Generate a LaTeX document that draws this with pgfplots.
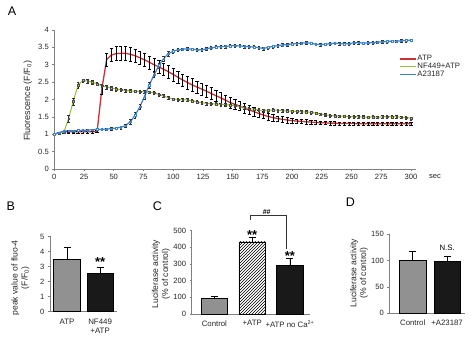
\documentclass[border=0pt]{standalone}
\usepackage{fontspec}
\setmainfont{Liberation Sans}
\usepackage{pgfplots}
\usepackage{pgfplotstable}
\pgfplotsset{compat=1.18}
\usetikzlibrary{patterns}

\definecolor{cred}{RGB}{200,50,55}
\definecolor{cgreen}{RGB}{150,190,60}
\definecolor{cblue}{RGB}{60,130,200}
\definecolor{cgray}{RGB}{145,145,145}
\definecolor{cblack}{RGB}{25,25,25}
\definecolor{axgray}{RGB}{128,128,128}

\pgfplotstableread{
t y e
0 1.00 0.01
4 1.04 0.02
8 1.07 0.03
12 1.07 0.03
16 1.07 0.03
20 1.07 0.03
24 1.07 0.03
28 1.07 0.03
32 1.07 0.03
36 1.08 0.03
40 2.30 0.15
44 3.15 0.18
48 3.28 0.19
52 3.32 0.20
56 3.33 0.20
60 3.33 0.20
64 3.30 0.20
68 3.26 0.19
72 3.20 0.19
76 3.14 0.19
80 3.07 0.19
84 3.00 0.19
88 2.94 0.19
92 2.87 0.18
96 2.80 0.18
100 2.72 0.18
104 2.64 0.18
108 2.56 0.18
112 2.49 0.18
116 2.42 0.18
120 2.36 0.18
124 2.30 0.17
128 2.24 0.17
132 2.17 0.17
136 2.11 0.17
140 2.05 0.17
144 1.98 0.15
148 1.91 0.15
152 1.86 0.15
156 1.81 0.13
160 1.75 0.13
164 1.70 0.13
168 1.65 0.13
172 1.60 0.10
176 1.55 0.10
180 1.51 0.10
184 1.48 0.10
188 1.45 0.08
192 1.43 0.08
196 1.41 0.08
200 1.39 0.08
204 1.38 0.06
208 1.37 0.06
212 1.36 0.06
216 1.35 0.06
220 1.34 0.06
224 1.33 0.05
228 1.33 0.05
232 1.32 0.05
236 1.32 0.05
240 1.31 0.05
244 1.31 0.04
248 1.31 0.04
252 1.31 0.04
256 1.30 0.04
260 1.30 0.04
264 1.30 0.04
268 1.30 0.04
272 1.30 0.04
276 1.30 0.04
280 1.30 0.04
284 1.30 0.04
288 1.30 0.04
292 1.30 0.04
296 1.30 0.04
300 1.30 0.04
}\redtab

\pgfplotstableread{
t y e
0 1.00 0.01
4 1.04 0.02
8 1.06 0.03
12 1.45 0.10
16 1.95 0.10
20 2.42 0.08
24 2.55 0.05
28 2.53 0.05
32 2.50 0.05
36 2.45 0.05
40 2.40 0.05
44 2.36 0.05
48 2.33 0.05
52 2.30 0.05
56 2.28 0.05
60 2.26 0.05
64 2.25 0.04
68 2.24 0.04
72 2.23 0.04
76 2.22 0.04
80 2.21 0.04
84 2.20 0.04
88 2.14 0.04
92 2.10 0.04
96 2.05 0.04
100 2.01 0.04
104 2.00 0.04
108 2.00 0.04
112 1.99 0.04
116 1.96 0.04
120 1.93 0.04
124 1.91 0.04
128 1.89 0.04
132 1.88 0.04
136 1.87 0.04
140 1.86 0.04
144 1.85 0.04
148 1.84 0.04
152 1.82 0.04
156 1.80 0.04
160 1.77 0.04
164 1.74 0.04
168 1.72 0.04
172 1.70 0.04
176 1.69 0.04
180 1.69 0.04
184 1.70 0.04
188 1.69 0.04
192 1.68 0.04
196 1.67 0.04
200 1.66 0.04
204 1.66 0.04
208 1.65 0.04
212 1.64 0.04
216 1.63 0.04
220 1.61 0.04
224 1.58 0.04
228 1.56 0.04
232 1.54 0.04
236 1.53 0.04
240 1.52 0.04
244 1.52 0.04
248 1.51 0.04
252 1.51 0.04
256 1.50 0.04
260 1.50 0.04
264 1.49 0.04
268 1.50 0.04
272 1.49 0.04
276 1.50 0.04
280 1.51 0.04
284 1.50 0.04
288 1.50 0.04
292 1.49 0.04
296 1.48 0.04
300 1.46 0.04
}\greentab

\pgfplotstableread{
t y e
0 1.00 0.01
4 1.05 0.02
8 1.09 0.03
12 1.10 0.03
16 1.10 0.03
20 1.11 0.03
24 1.11 0.03
28 1.12 0.03
32 1.13 0.03
36 1.14 0.03
40 1.14 0.03
44 1.15 0.03
48 1.16 0.03
52 1.18 0.03
56 1.20 0.04
60 1.25 0.05
64 1.36 0.07
68 1.55 0.08
72 1.79 0.08
76 2.10 0.08
80 2.42 0.08
84 2.72 0.08
88 2.98 0.08
92 3.18 0.07
96 3.32 0.06
100 3.39 0.05
104 3.43 0.04
108 3.45 0.04
112 3.46 0.04
116 3.45 0.04
120 3.43 0.04
124 3.43 0.04
128 3.46 0.04
132 3.49 0.04
136 3.51 0.04
140 3.52 0.04
144 3.53 0.04
148 3.54 0.04
152 3.55 0.04
156 3.54 0.04
160 3.53 0.04
164 3.52 0.04
168 3.51 0.04
172 3.49 0.04
176 3.47 0.04
180 3.50 0.04
184 3.53 0.04
188 3.55 0.04
192 3.57 0.04
196 3.58 0.04
200 3.60 0.04
204 3.61 0.04
208 3.62 0.04
212 3.63 0.04
216 3.62 0.04
220 3.59 0.04
224 3.58 0.04
228 3.59 0.04
232 3.61 0.04
236 3.62 0.04
240 3.61 0.04
244 3.60 0.04
248 3.61 0.04
252 3.63 0.04
256 3.64 0.04
260 3.62 0.04
264 3.63 0.04
268 3.64 0.04
272 3.65 0.04
276 3.66 0.04
280 3.67 0.04
284 3.68 0.04
288 3.68 0.04
292 3.69 0.04
296 3.70 0.04
300 3.71 0.04
}\bluetab

\pgfplotsset{
  base/.style={
    scale only axis, clip=false,
    axis x line*=bottom, axis y line*=left,
    axis line style={axgray, line width=0.7pt, -},
    tick style={axgray, line width=0.6pt},
    tick align=outside, major tick length=2pt,
    tick label style={font=\fontsize{7.6}{9}\selectfont, text=black!85},
    label style={font=\fontsize{8.6}{10}\selectfont, text=black!85},
    /pgf/number format/assume math mode=true,
  },
  curveerr/.style={error bars/.cd, y dir=both, y explicit,
    error bar style={black, line width=0.4pt},
    error mark options={black, rotate=90, mark size=1.6pt, line width=0.4pt}},
  curveerrs/.style={error bars/.cd, y dir=both, y explicit,
    error bar style={black!80, line width=0.3pt},
    error mark options={black!80, rotate=90, mark size=1.2pt, line width=0.3pt}},
  barerr/.style={error bars/.cd, y dir=plus, y explicit,
    error bar style={black, line width=0.8pt},
    error mark options={black, rotate=90, mark size=3.5pt, line width=0.8pt}},
  barst/.style={ybar, bar shift=0pt, bar width=26.5pt, draw=black, line width=0.7pt},
}

\begin{document}
\begin{tikzpicture}
\useasboundingbox (0,0) rectangle (474pt,338pt);

% Panel A
\begin{axis}[base, at={(54.3pt,169pt)}, anchor=south west,
  width=361.4pt, height=139pt,
  xmin=0, xmax=304, ymin=0, ymax=4,
  xtick={0,25,...,300}, ytick={0,0.5,...,4},
  ylabel={Fluorescence (F/F\textsubscript{0})},
  ylabel style={font=\fontsize{9}{10}\selectfont, at={(axis description cs:-0.073,0.49)}, anchor=center},
  legend style={at={(axis description cs:0.954,0.825)}, anchor=north west,
    draw=none, fill=none, font=\fontsize{7.8}{8.5}\selectfont, text=black!85,
    inner sep=0pt, row sep=-1.2pt, nodes={inner sep=1pt}},
  legend cell align=left,
  legend image code/.code={\draw[#1, line width=1.2pt, mark=none] (0pt,0pt) -- (16pt,0pt);},
]
\addplot[cred, line width=1.3pt, curveerr] table[x=t, y=y, y error=e] {\redtab};
\addlegendentry{ATP}
\addplot[cgreen, line width=1pt, mark=square*, mark size=0.8pt,
  mark options={fill=cgreen!60!yellow, draw=black!70, line width=0.2pt}, curveerrs]
  table[x=t, y=y, y error=e] {\greentab};
\addlegendentry{NF449+ATP}
\addplot[cblue, line width=1.2pt, mark=square*, mark size=0.8pt,
  mark options={fill=white, draw=cblue, line width=0.35pt}, curveerrs]
  table[x=t, y=y, y error=e] {\bluetab};
\addlegendentry{A23187}
\end{axis}
\node[font=\fontsize{7.6}{9}\selectfont, text=black!85] at (435pt,162pt) {sec};

% Panel letters
\node[font=\fontsize{12.5}{14}\selectfont] at (12pt,326.3pt) {A};
\node[font=\fontsize{12.5}{14}\selectfont] at (10.7pt,132.2pt) {B};
\node[font=\fontsize{12.5}{14}\selectfont] at (157.5pt,132.2pt) {C};
\node[font=\fontsize{12.5}{14}\selectfont] at (350.3pt,135.5pt) {D};

% Panel B
\begin{axis}[base, at={(50pt,26.3pt)}, anchor=south west,
  width=67pt, height=75.2pt,
  xmin=-0.516, xmax=1.51, ymin=0, ymax=5,
  ytick={0,1,2,3,4,5}, xtick={0,1},
  xticklabels={ATP,{NF449\\+ATP}},
  x tick style={draw=none},
  xticklabel style={align=center, font=\fontsize{7.9}{9.2}\selectfont, anchor=north, yshift=-2pt},
  ylabel={peak value of fluo-4\\(F/F\textsubscript{0})},
  ylabel style={align=center, at={(axis description cs:-0.44,0.45)}, anchor=center},
]
\addplot[barst, fill=cgray, barerr] coordinates {(0,3.49) +- (0,0.80)};
\addplot[barst, fill=cblack, barerr] coordinates {(1,2.56) +- (0,0.37)};
\node[font=\bfseries\fontsize{13}{14}\selectfont] at (axis cs:1,3.3) {**};
\end{axis}

% Panel C
\begin{axis}[base, at={(191.7pt,24pt)}, anchor=south west,
  width=118.3pt, height=83.3pt,
  xmin=-0.6, xmax=2.53, ymin=0, ymax=500,
  ytick={0,100,...,500}, xtick={0,1,2},
  xticklabels={Control,+ATP,+ATP no Ca\textsuperscript{2+}},
  x tick style={draw=none},
  xticklabel style={font=\fontsize{7.8}{9.2}\selectfont, anchor=north, yshift=-1pt},
  ylabel={Luciferase activity\\(\% of control)},
  ylabel style={align=center, at={(axis description cs:-0.26,0.48)}, anchor=center},
]
\addplot[barst, fill=cgray, barerr] coordinates {(0,95) +- (0,8)};
\addplot[barst, fill=white, postaction={pattern=north east lines}, barerr] coordinates {(1,433) +- (0,25)};
\addplot[barst, fill=cblack, barerr] coordinates {(2,295) +- (0,39)};
\node[font=\bfseries\fontsize{13}{14}\selectfont] at (axis cs:1,475) {**};
\node[font=\bfseries\fontsize{13}{14}\selectfont] at (axis cs:2,345) {**};
\draw[black!80, line width=0.7pt] (axis cs:0.94,564) -- (axis cs:0.94,590) -- (axis cs:1.91,590) -- (axis cs:1.91,390);
\node[font=\bfseries\fontsize{7}{8}\selectfont] at (axis cs:1.385,614) {\#\#};
\end{axis}

% Panel D
\begin{axis}[base, at={(389.3pt,24.7pt)}, anchor=south west,
  width=75.7pt, height=79pt,
  xmin=-0.68, xmax=1.52, ymin=0, ymax=150,
  ytick={0,50,100,150}, xtick={0,1},
  xticklabels={Control,+A23187},
  x tick style={draw=none},
  xticklabel style={font=\fontsize{7.8}{9.2}\selectfont, anchor=north, yshift=-1pt},
  ylabel={Luciferase activity\\(\% of control)},
  ylabel style={align=center, at={(axis description cs:-0.40,0.51)}, anchor=center},
]
\addplot[barst, fill=cgray, barerr] coordinates {(0,100) +- (0,17)};
\addplot[barst, fill=cblack, barerr] coordinates {(1,99) +- (0,9)};
\node[font=\fontsize{7.8}{9}\selectfont] at (axis cs:1,124.6) {N.S.};
\end{axis}
\end{tikzpicture}
\end{document}
